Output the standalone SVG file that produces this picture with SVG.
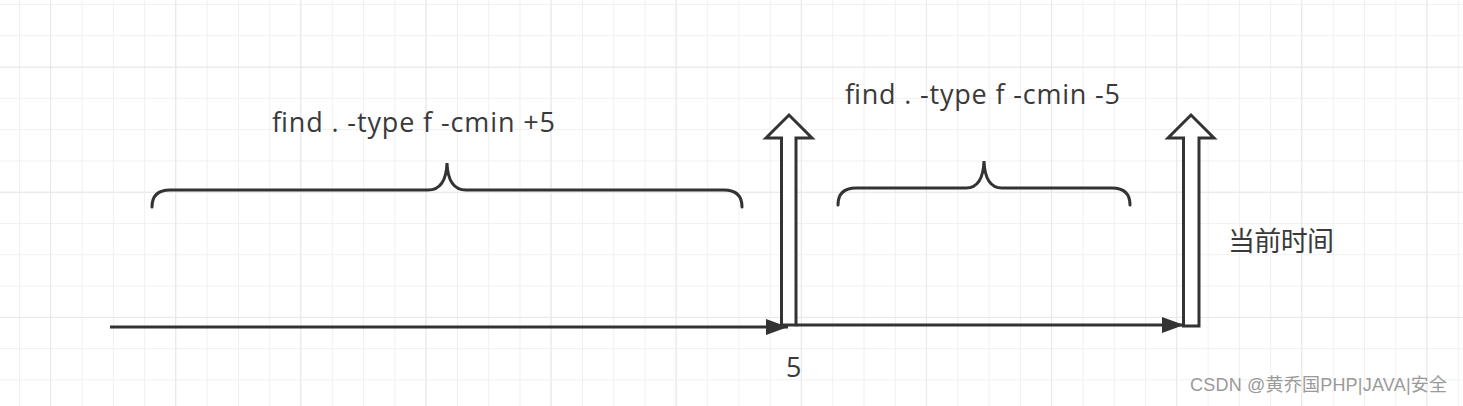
<svg xmlns="http://www.w3.org/2000/svg" width="1463" height="406" viewBox="0 0 1463 406">
<defs>
<pattern id="minor" x="19" y="4" width="31.28" height="31.28" patternUnits="userSpaceOnUse">
<path d="M0,0 V31.28 M0,0 H31.28" fill="none" stroke="#f0f0f0" stroke-width="2"/>
</pattern>
<pattern id="major" x="50" y="66.7" width="125.12" height="125.12" patternUnits="userSpaceOnUse">
<path d="M0,0 V125.12 M0,0 H125.12" fill="none" stroke="#e8e8e8" stroke-width="2"/>
</pattern>
<marker id="arr" viewBox="0 0 22 16" refX="22" refY="8" markerWidth="22" markerHeight="16" markerUnits="userSpaceOnUse" orient="auto">
<path d="M0,0 L22,8 L0,16 Z" fill="#333333"/>
</marker>
</defs>
<style>
.line{fill:none;stroke:#333333;stroke-width:3}
.block{fill:#ffffff;stroke:#333333;stroke-width:3;stroke-linejoin:miter}
.brace{fill:none;stroke:#333333;stroke-width:3;stroke-linecap:round}
.lbl{font-family:"Open Sans","Noto Sans","Noto Sans CJK SC",sans-serif;font-size:27px;fill:#3a3a3a}
.wm{font-family:"Liberation Sans","Noto Sans CJK SC",sans-serif;font-size:18px;fill:#9a9a9a}
</style>
<rect width="1463" height="406" fill="#ffffff"/>
<rect width="1463" height="406" fill="url(#minor)"/>
<rect width="1463" height="406" fill="url(#major)"/>
<g id="connectors">
<path class="line" d="M110,327 L788,327" marker-end="url(#arr)"/>
<path class="line" d="M796,325 L1184,325" marker-end="url(#arr)"/>
</g>
<g id="arrow1">
<path class="block" d="M781.5,325 L781.5,138 L766,138 L789,115 L812,138 L796,138 L796,325 Z"/>
</g>
<g id="arrow2">
<path class="block" d="M1183.5,326 L1183.5,138 L1168,138 L1191,115 L1214,138 L1199,138 L1199,326 Z"/>
</g>
<g id="brace1">
<path class="brace" d="M152,207 Q152,190 170,190 L428,190 Q446,190 447,163 Q448,190 466,190 L724,190 Q742,190 742,207"/>
</g>
<g id="brace2">
<path class="brace" d="M838,205 Q838,188 856,188 L966,188 Q983,188 984,161 Q985,188 1002,188 L1112,188 Q1130,188 1130,205"/>
</g>
<g id="label1">
<text class="lbl" x="272" y="132" textLength="283" lengthAdjust="spacing">find . -type f -cmin +5</text>
</g>
<g id="label2">
<text class="lbl" x="845" y="104" textLength="275" lengthAdjust="spacing">find . -type f -cmin -5</text>
</g>
<g id="label5">
<text class="lbl" x="786" y="377">5</text>
</g>
<g id="labelNow">
<text class="lbl" x="1228" y="251" textLength="106" lengthAdjust="spacing">当前时间</text>
</g>
<g id="watermark">
<text class="wm" x="1190" y="391" textLength="257" lengthAdjust="spacing">CSDN @黄乔国PHP|JAVA|安全</text>
</g>
</svg>
